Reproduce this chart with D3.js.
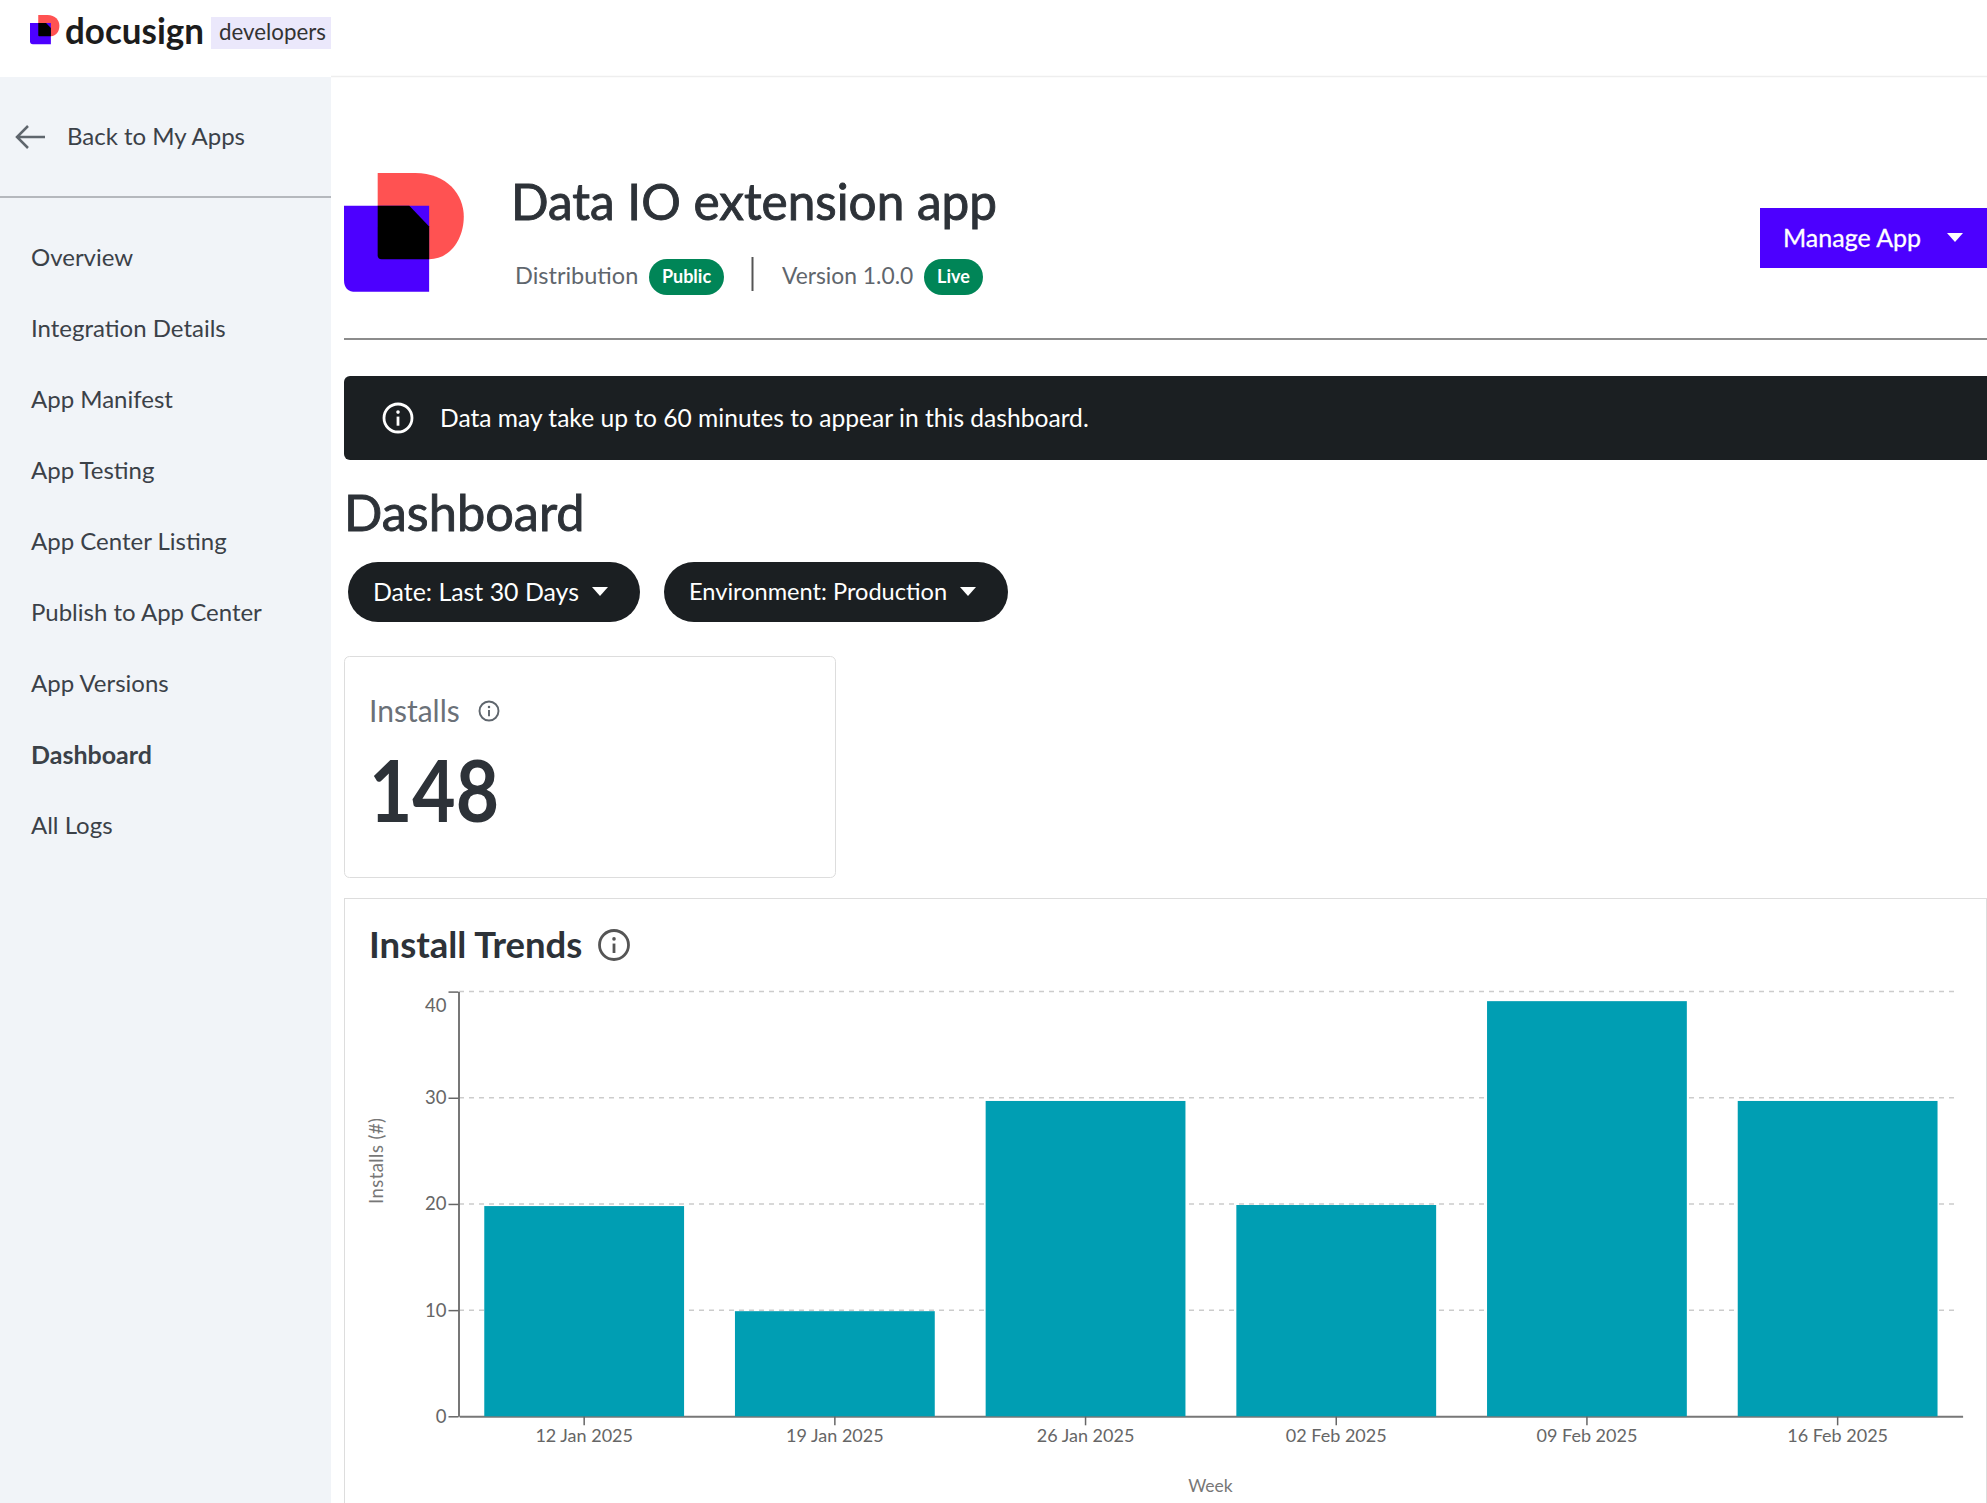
<!DOCTYPE html>
<html>
<head>
<meta charset="utf-8">
<title>Install Trends</title>
<script src="https://cdn.jsdelivr.net/npm/d3@7"></script>
<style>
  html, body { margin: 0; padding: 0; background: #fff; overflow: hidden; }
  svg { display: block; }
  text { font-family: Lato, "Open Sans", sans-serif; }
</style>
</head>
<body>
<div id="page"></div>
<script>
"use strict";

// chart values
const weeks = ['12 Jan 2025', '19 Jan 2025', '26 Jan 2025', '02 Feb 2025', '09 Feb 2025', '16 Feb 2025'];
const installs = [19.8, 9.9, 29.7, 19.9, 39.1, 29.7];
const yTicks = [0, 10, 20, 30, 40];

const navItems = ['Overview', 'Integration Details', 'App Manifest', 'App Testing', 'App Center Listing',
  'Publish to App Center', 'App Versions', 'Dashboard', 'All Logs'];

const ink = '#2d3238', grey = '#5f666d', dark = '#1b1f22', purple = '#4c00ff', green = '#008557';

const svg = d3.select('#page').append('svg').attr('width', 1987).attr('height', 1503);

// small helpers for the page around the chart
const label = (x, y, str, size, fill, weight = 400, anchor = 'start') => svg.append('text')
  .attr('x', x).attr('y', y).attr('dy', '0.35em')
  .attr('font-size', size).attr('font-weight', weight).attr('fill', fill)
  .attr('text-anchor', anchor).text(str);

// Lato has no medium cut here, so thicken the regular one a little
const thick = (sel, color, sw) => sel.attr('stroke', color).attr('stroke-width', sw);

const box = (x, y, w, h, fill, r = 0, stroke = 'none') => svg.append('rect')
  .attr('x', x).attr('y', y).attr('width', w).attr('height', h).attr('rx', r)
  .attr('fill', fill).attr('stroke', stroke);

const infoIcon = (cx, cy, r, color, sw) => {
  svg.append('circle').attr('cx', cx).attr('cy', cy).attr('r', r)
    .attr('fill', 'none').attr('stroke', color).attr('stroke-width', sw);
  svg.append('line').attr('x1', cx).attr('x2', cx).attr('y1', cy - r * 0.1).attr('y2', cy + r * 0.55)
    .attr('stroke', color).attr('stroke-width', sw);
  svg.append('circle').attr('cx', cx).attr('cy', cy - r * 0.42).attr('r', sw * 0.65).attr('fill', color);
};

const caret = (cx, cy, color) => svg.append('path')
  .attr('d', `M${cx - 8},${cy - 4}h16l-8,9z`).attr('fill', color);

// docusign mark, drawn at any size
const logo = (x, y, s) => {
  const g = svg.append('g').attr('transform', `translate(${x},${y}) scale(${s})`);
  g.append('path').attr('d', 'M34,0H72C104,0 121,22 121,44C121,66 108,87 86,87H34Z').attr('fill', '#ff5252');
  g.append('path').attr('d', 'M0,33H86V120H12Q0,120 0,108Z').attr('fill', purple);
  g.append('path').attr('d', 'M34,33H66L86,54V87H38Q34,87 34,83Z').attr('fill', '#000');
};

// header
logo(30, 15, 0.243);
label(65, 31, 'docusign', 37, '#1c1c1c', 700)
  .attr('textLength', 139).attr('lengthAdjust', 'spacingAndGlyphs');
box(211, 17, 120, 32, '#ebe8fb');
label(219, 32, 'developers', 22.3, '#333');

// sidebar
box(0, 77, 331, 1426, '#f1f4f8');
svg.append('line').attr('x1', 331).attr('x2', 1987).attr('y1', 76.5).attr('y2', 76.5).attr('stroke', '#eee').attr('stroke-width', 1.5);
svg.append('path').attr('d', 'M45,137H17M28,126L17,137L28,148').attr('fill', 'none').attr('stroke', '#5f666d').attr('stroke-width', 2.5);
label(67, 137, 'Back to My Apps', 24, '#3b4148');
svg.append('line').attr('x1', 0).attr('x2', 331).attr('y1', 197).attr('y2', 197).attr('stroke', '#a0a5aa').attr('stroke-width', 1.5);
navItems.forEach((d, i) => {
  if (d === 'Dashboard') label(31, 258 + i * 71, d, 25, '#3b4148', 700);
  else label(31, 258 + i * 71, d, 24, '#3b4148');
});

// app heading
logo(344, 173, 0.99);
thick(label(511, 203, 'Data IO extension app', 49.5, ink), ink, 0.9);
label(515, 276, 'Distribution', 23.5, grey);
box(649, 259, 75, 36, green, 18);
label(686.5, 277, 'Public', 18, '#fff', 700, 'middle');
svg.append('line').attr('x1', 752.5).attr('x2', 752.5).attr('y1', 257).attr('y2', 291).attr('stroke', '#555').attr('stroke-width', 2);
label(782, 276, 'Version 1.0.0', 22.8, grey);
box(924, 259, 59, 36, green, 18);
label(953.5, 277, 'Live', 18, '#fff', 700, 'middle');
box(1760, 208, 227, 60, purple);
thick(label(1783, 238, 'Manage App', 25, '#fff'), '#fff', 0.3);
caret(1955, 237, '#fff');
svg.append('line').attr('x1', 344).attr('x2', 1987).attr('y1', 339).attr('y2', 339).attr('stroke', '#666').attr('stroke-width', 1.5);

// notice
box(344, 376, 1650, 84, dark, 6);
infoIcon(398, 418, 14, '#fff', 2.8);
label(440, 418, 'Data may take up to 60 minutes to appear in this dashboard.', 24.6, '#fff');

// filters
thick(label(344, 513, 'Dashboard', 50.5, ink), ink, 0.9);
box(348, 562, 292, 60, dark, 30);
label(373, 592, 'Date: Last 30 Days', 24.9, '#fff');
caret(600, 591, '#fff');
box(664, 562, 344, 60, dark, 30);
label(689, 592, 'Environment: Production', 23.6, '#fff');
caret(968, 591, '#fff');

// installs card
box(344.5, 656.5, 491, 221, '#fff', 5, '#ddd');
label(369, 711, 'Installs', 30, '#6b7178');
infoIcon(489, 711, 9.5, grey, 1.9);
label(369, 792, '148', 86, ink, 700)
  .attr('textLength', 130).attr('lengthAdjust', 'spacingAndGlyphs');

// chart card
box(344.5, 898.5, 1642, 640, '#fff', 0, '#ddd');
label(369, 945, 'Install Trends', 36.5, ink, 700);
infoIcon(614, 945, 14.5, '#555', 2.8);

// scales
const x = d3.scaleBand().domain(weeks).range([459.2, 1962.6]).paddingInner(0.203).paddingOuter(0.1);
const y = d3.scaleLinear().domain([0, 40]).range([1416.3, 991.6]);

// grid lines
svg.append('g')
  .selectAll('line')
  .data(yTicks.filter(d => d > 0))
  .join('line')
  .attr('x1', 459).attr('x2', 1958)
  .attr('y1', d => y(d)).attr('y2', d => y(d))
  .attr('stroke', '#ccc').attr('stroke-width', 1.5).attr('stroke-dasharray', '5 5');

// axes
const axisY = svg.append('g').attr('transform', 'translate(458.5,0)')
  .call(d3.axisLeft(y).tickValues(yTicks).tickSize(10).tickSizeOuter(0).tickPadding(2));
const axisX = svg.append('g').attr('transform', `translate(0,${y(0)})`)
  .call(d3.axisBottom(x).tickSize(9).tickSizeOuter(0).tickPadding(4));

[axisY, axisX].forEach(a => {
  a.selectAll('.domain').attr('stroke', '#777').attr('stroke-width', 2);
  a.selectAll('.tick line').attr('stroke', '#666').attr('stroke-width', 1.5);
  a.selectAll('.tick text').attr('font-family', 'Lato').attr('font-size', 18).attr('fill', '#666');
});
axisY.selectAll('.tick text').attr('font-size', 18.5);
// top label sits below its tick in the original
axisY.selectAll('.tick').filter(d => d === 40).select('text').attr('dy', '1.1em');

// bars
svg.append('g')
  .selectAll('rect')
  .data(installs)
  .join('rect')
  .attr('x', (d, i) => x(weeks[i]))
  .attr('y', d => y(d))
  .attr('width', x.bandwidth())
  .attr('height', d => y(0) - y(d))
  .attr('fill', '#009eb3');

// axis titles
label(1210.5, 1486, 'Week', 17.5, '#777', 400, 'middle');
svg.append('text')
  .attr('transform', 'translate(377,1161) rotate(-90)')
  .attr('text-anchor', 'middle').attr('dy', '0.35em')
  .attr('font-size', 18.5).attr('fill', '#777')
  .attr('textLength', 86)
  .text('Installs (#)');
</script>
</body>
</html>
